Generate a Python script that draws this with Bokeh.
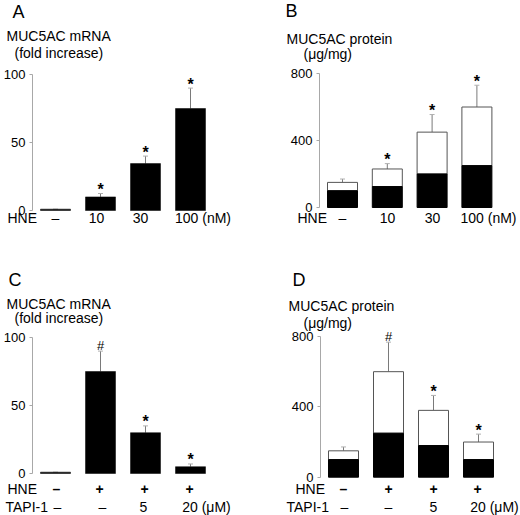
from bokeh.plotting import figure
from bokeh.layouts import column, row
from bokeh.models import Range1d, FixedTicker, ColumnDataSource
from bokeh.core.properties import value
from bokeh.embed import file_html
from bokeh.resources import INLINE

FONT = "Liberation Sans"

# ---------------- data ----------------
# Panel A: MUC5AC mRNA vs HNE dose
a_doses = ["–", "10", "30", "100 (nM)"]
a_mrna = [1, 10, 34.5, 75]
a_err = [1, 12.5, 40, 90]
a_sig = ["", "*", "*", "*"]

# Panel B: MUC5AC protein vs HNE dose (black = lower part, total = whole bar)
b_doses = ["–", "10", "30", "100 (nM)"]
b_black = [100, 125, 200, 250]
b_total = [150, 230, 450, 600]
b_err = [170, 262, 555, 730]
b_sig = ["", "*", "*", "*"]

# Panel C: MUC5AC mRNA, HNE +/- TAPI-1
c_hne = ["–", "+", "+", "+"]
c_tapi = ["–", "–", "5", "20 (μM)"]
c_mrna = [1, 75, 30, 5]
c_err = [1, 90, 35, 7]
c_sig = ["", "#", "*", "*"]

# Panel D: MUC5AC protein, HNE +/- TAPI-1
d_hne = ["–", "+", "+", "+"]
d_tapi = ["–", "–", "5", "20 (μM)"]
d_black = [100, 250, 180, 100]
d_total = [150, 600, 380, 200]
d_err = [172, 768, 465, 245]
d_sig = ["", "#", "*", "*"]

mrna_ticks = [0, 50, 100]
prot_ticks = [0, 400, 800]
mrna_title = ["MUC5AC mRNA", "(fold increase)"]
prot_title = ["MUC5AC protein", "(μg/mg)"]


# ---------------- helpers ----------------
def make_fig(width, height, x0_px, dx_px, ybase_px, ytop_px, ytop_val, axis_px, ticks):
    ppu = (ybase_px - ytop_px) / ytop_val
    xr = Range1d((0 - x0_px) / dx_px, (width - x0_px) / dx_px)
    yr = Range1d((ybase_px - height) / ppu, ybase_px / ppu)
    p = figure(width=width, height=height, x_range=xr, y_range=yr,
               output_backend="svg", toolbar_location=None,
               x_axis_location=None, y_axis_location="left",
               min_border=0, min_border_left=0, min_border_right=0,
               min_border_top=0, min_border_bottom=0)
    p.outline_line_color = None
    p.grid.visible = False
    p.background_fill_color = "white"
    p.border_fill_color = "white"
    ax = p.yaxis[0]
    ax.fixed_location = (axis_px - x0_px) / dx_px
    ax.ticker = FixedTicker(ticks=ticks)
    ax.bounds = (0, ticks[-1])
    ax.axis_line_color = "#a8a8a8"
    ax.major_tick_line_color = "#a8a8a8"
    ax.major_tick_in = 0
    ax.major_tick_out = 3
    ax.minor_tick_line_color = None
    ax.major_label_text_font = FONT
    ax.major_label_text_font_size = "13px"
    ax.major_label_text_color = "black"
    ax.major_label_standoff = 4

    def conv(px, py):
        return (px - x0_px) / dx_px, (ybase_px - py) / ppu

    return p, conv, dx_px


def texts(p, conv, pxs, pys, labels, align="left", size=14, style="normal", color="black"):
    xs, ys = [], []
    for px, py in zip(pxs, pys):
        x, y = conv(px, py)
        xs.append(x)
        ys.append(y)
    src = ColumnDataSource(dict(x=xs, y=ys, t=labels))
    p.text(x="x", y="y", text="t", source=src, text_align=align, text_baseline="alphabetic",
           y_offset=-round(0.36 * size), text_font=value(FONT),
           text_font_size=f"{size}px", text_font_style=style, text_color=color)


def sig_cols(sig):
    size = ["13px" if s == "#" else "16px" for s in sig]
    yoff = [-6 if s == "#" else -4 for s in sig]
    style = ["normal" if s == "#" else "bold" for s in sig]
    return size, yoff, style


def bars_single(p, dx, vals, errs, sig):
    xs = list(range(len(vals)))
    size, yoff, style = sig_cols(sig)
    src = ColumnDataSource(dict(x=xs, top=vals, err=errs, sig=sig, size=size, yoff=yoff,
                                style=style,
                                xl=[x - 2.5 / dx for x in xs], xr=[x + 2.5 / dx for x in xs]))
    p.segment(x0="x", y0="top", x1="x", y1="err", source=src, line_color="#7a7a7a", line_width=1)
    p.segment(x0="xl", y0="err", x1="xr", y1="err", source=src, line_color="#b0b0b0", line_width=1)
    p.vbar(x="x", top="top", bottom=0, width=30 / dx, source=src,
           fill_color="black", line_color="black", line_width=0.5)
    p.text(x="x", y="err", text="sig", source=src, text_align="center", text_baseline="middle",
           y_offset="yoff", text_font=value(FONT), text_font_size="size",
           text_font_style="style", text_color="black")


def bars_stacked(p, dx, black, total, errs, sig):
    xs = list(range(len(total)))
    size, yoff, style = sig_cols(sig)
    src = ColumnDataSource(dict(x=xs, black=black, total=total, err=errs, sig=sig, size=size,
                                yoff=yoff, style=style,
                                xl=[x - 2.5 / dx for x in xs], xr=[x + 2.5 / dx for x in xs]))
    p.segment(x0="x", y0="total", x1="x", y1="err", source=src, line_color="#7a7a7a", line_width=1)
    p.segment(x0="xl", y0="err", x1="xr", y1="err", source=src, line_color="#b0b0b0", line_width=1)
    p.vbar(x="x", top="total", bottom="black", width=30 / dx, source=src,
           fill_color="white", line_color="#555555", line_width=1)
    p.vbar(x="x", top="black", bottom=0, width=30 / dx, source=src,
           fill_color="black", line_color="black", line_width=1)
    p.text(x="x", y="err", text="sig", source=src, text_align="center", text_baseline="middle",
           y_offset="yoff", text_font=value(FONT), text_font_size="size",
           text_font_style="style", text_color="black")


# ---------------- Panel A (page offset 0,0) ----------------
pa, ca, dxa = make_fig(260, 258, 55, 45, 210, 74, 100, 32, mrna_ticks)
bars_single(pa, dxa, a_mrna, a_err, a_sig)
texts(pa, ca, [12], [17], ["A"], size=18)
texts(pa, ca, [6, 14], [40.7, 57], mrna_title)
texts(pa, ca, [7], [222], ["HNE"])
texts(pa, ca, [55, 96, 140, 202.5], [222] * 4, a_doses, align="center")

# ---------------- Panel B (page offset 260,0) ----------------
pb, cb, dxb = make_fig(260, 258, 82, 44.8, 207, 73, 800, 59, prot_ticks)
bars_stacked(pb, dxb, b_black, b_total, b_err, b_sig)
texts(pb, cb, [25], [16.7], ["B"], size=18)
texts(pb, cb, [26, 43], [43, 58.7], prot_title)
texts(pb, cb, [37], [222.5], ["HNE"])
texts(pb, cb, [82, 127, 172, 228], [222.5] * 4, b_doses, align="center")

# ---------------- Panel C (page offset 0,258) ----------------
pc, cc, dxc = make_fig(260, 257, 55, 45, 215, 79, 100, 32, mrna_ticks)
bars_single(pc, dxc, c_mrna, c_err, c_sig)
texts(pc, cc, [8], [27], ["C"], size=18)
texts(pc, cc, [6, 14], [50.3, 64], mrna_title)
texts(pc, cc, [7, 5], [235, 253], ["HNE", "TAPI-1"])
texts(pc, cc, [56, 99, 144, 189], [235] * 4, c_hne, align="center", style="bold")
texts(pc, cc, [57, 102, 143, 206], [253] * 4, c_tapi, align="center")

# ---------------- Panel D (page offset 260,258) ----------------
pd_, cd, dxd = make_fig(260, 257, 83, 45, 218.7, 78, 800, 60, prot_ticks)
bars_stacked(pd_, dxd, d_black, d_total, d_err, d_sig)
texts(pd_, cd, [32], [27], ["D"], size=18)
texts(pd_, cd, [28, 43], [52, 69], prot_title)
texts(pd_, cd, [35, 26], [235.3, 253], ["HNE", "TAPI-1"])
texts(pd_, cd, [83, 128, 173, 217], [235.3] * 4, d_hne, align="center", style="bold")
texts(pd_, cd, [84, 128, 173, 234], [253] * 4, d_tapi, align="center")

layout = column(row(pa, pb), row(pc, pd_))
open("out.html", "w").write(file_html(layout, INLINE))
